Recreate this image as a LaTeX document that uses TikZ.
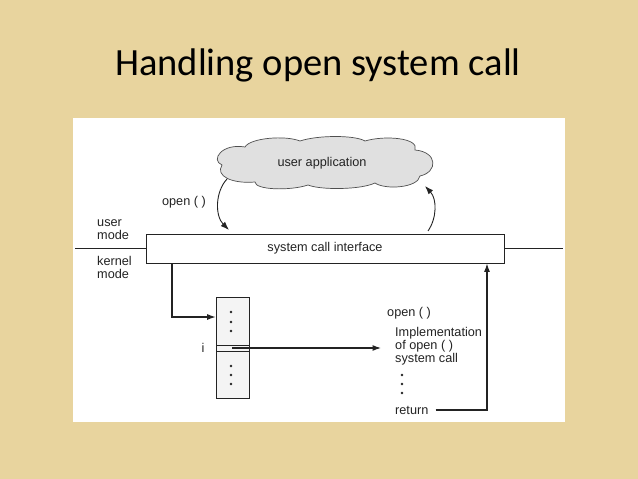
\documentclass[tikz,border=0pt]{standalone}
\usepackage{fontspec}
\setmainfont{Carlito}
\newfontfamily\helv{Liberation Sans}
\usetikzlibrary{arrows.meta}
\definecolor{bg}{RGB}{232,212,158}
\definecolor{ink}{RGB}{35,35,35}
\definecolor{cloudfill}{RGB}{224,224,224}
\definecolor{tabfill}{RGB}{244,244,244}
\tikzset{
  lbl/.style={font=\helv\fontsize{12.7}{13}\selectfont, text=ink, inner sep=0pt, align=left},
  conn/.style={draw=ink, line width=1.1pt},
  thinline/.style={draw=ink, line width=0.7pt},
  tipx/.style={-{Latex[length=8.5pt,width=6pt]}},
  dotx/.style={fill=ink},
}
\begin{document}
\begin{tikzpicture}[x=1pt,y=-1pt]
\useasboundingbox (0,0) rectangle (638,479);
\fill[bg] (0,0) rectangle (638,479);
\fill[white] (73,118) rectangle (565,422);

% title
\node[anchor=base, font=\fontsize{38.5}{40}\selectfont, inner sep=0pt] (title) at (318,75) {Handling open system call};

% cloud
\filldraw[fill=cloudfill, draw=ink!80, line width=0.7pt]
  (222,165)
  .. controls (210,160) and (222,143) .. (245,147)
  .. controls (250,138) and (285,135) .. (300,141)
  .. controls (318,135) and (355,135) .. (365,141)
  .. controls (385,135) and (420,138) .. (415,150)
  .. controls (438,152) and (438,172) .. (420,176)
  .. controls (418,188) and (385,190) .. (375,183)
  .. controls (360,190) and (320,190) .. (308,185)
  .. controls (290,191) and (255,190) .. (255,182)
  .. controls (232,184) and (215,176) .. (222,165) -- cycle;
\node[lbl] (app) at (322,163) {user application};

% system call interface
\node[draw=ink, line width=0.7pt, fill=white, minimum width=358pt, minimum height=29pt, inner sep=0pt,
      font=\helv\fontsize{12.7}{13}\selectfont, text=ink] (sci) at (325,248.5) {system call interface};
\coordinate (hl) at (75,248.5);
\coordinate (hr) at (563,248.5);
\draw[thinline] (hl) -- (sci.west);
\draw[thinline] (sci.east) -- (hr);

% mode labels
\node[lbl, anchor=west] (um) at (97,230) {user\\mode};
\node[lbl, anchor=west] (km) at (97,267.5) {kernel\\mode};

% arrows cloud <-> interface
\coordinate (a1s) at (227,179);
\coordinate (a1e) at (229,230);
\coordinate (a2s) at (428,231);
\coordinate (a2e) at (425,186);
\draw[conn, line width=0.9pt, tipx] (a1s) .. controls (215,192) and (215,216) .. (a1e);
\draw[conn, line width=0.9pt, tipx] (a2s) .. controls (437,218) and (437,199) .. (a2e);
\node[lbl] (openc) at (184,202) {open ( )};

% table
\node[draw=ink, line width=0.7pt, fill=tabfill, minimum width=33pt, minimum height=101pt, inner sep=0pt] (tab) at (232.5,347.5) {};
\draw[thinline] (216,345) -- (249,345);
\draw[thinline] (216,351) -- (249,351);
\foreach \yy in {312,322,331,366,375,384} \fill[dotx] (231,\yy) circle (1.3);
\node[lbl] (ilbl) at (203,348) {i};

% connector interface -> table
\coordinate (lc) at (172,317);
\draw[conn, tipx] (lc |- sci.south) -- (lc) -- (lc -| tab.west);

% row i -> implementation
\coordinate (ri) at (232,348);
\coordinate (impl) at (381,348);
\draw[conn, tipx] (ri) -- (impl);

% implementation text
\node[lbl, anchor=west] (openi) at (387,313) {open ( )};
\node[lbl, anchor=west] (impt) at (395,346.5) {Implementation\\of open ( )\\system call};
\foreach \yy in {375,384,393} \fill[dotx] (402,\yy) circle (1.3);
\node[lbl, anchor=west] (ret) at (395,410) {return};

% return connector
\coordinate (rc) at (487,410);
\draw[conn, line width=1.4pt, tipx] ([xshift=7pt]ret.east) -- (rc) -- (rc |- sci.south);
\end{tikzpicture}
\end{document}
